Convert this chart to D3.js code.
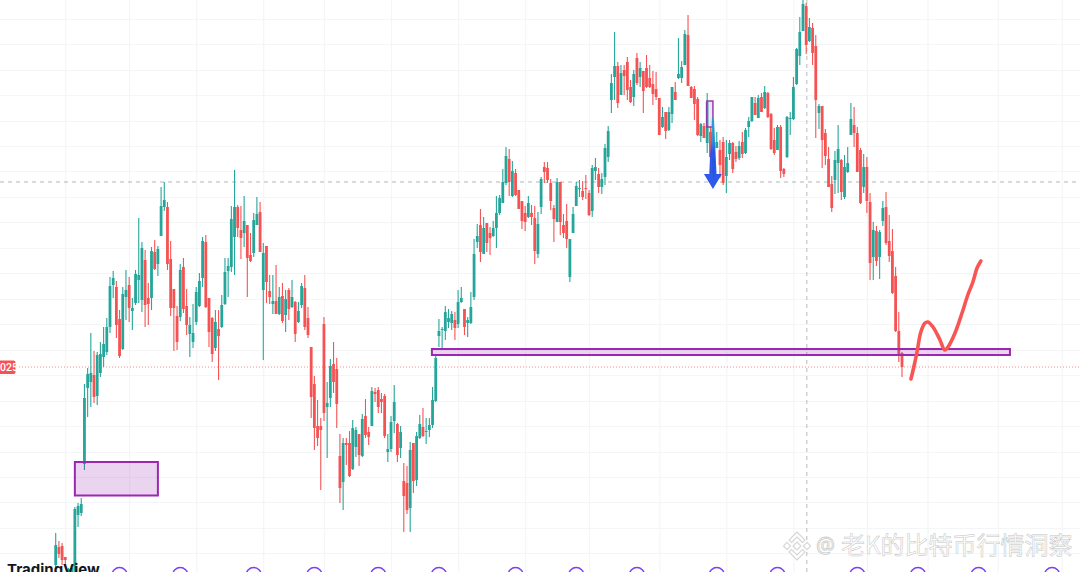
<!DOCTYPE html>
<html>
<head>
<meta charset="utf-8">
<script src="https://cdn.jsdelivr.net/npm/d3@7"></script>
<style>html,body{margin:0;padding:0;background:#fff;overflow:hidden}svg{display:block}</style>
</head>
<body>
<div id="chart"></div>
<script>
const opens = [7,25,26,15,1,0,-18,57,59,108,184,190,197,176,199,215,220,245,287,285,
253,223,275,287,261,269,292,272,312,274,274,320,308,336,365,365,313,283,256,255,
305,266,238,230,250,266,294,330,274,254,224,243,245,268,301,305,335,365,342,339,
347,317,319,347,360,282,326,281,268,271,258,276,257,282,265,270,250,267,284,254,
225,188,146,146,248,165,174,208,203,116,90,129,129,103,125,138,116,156,140,146,
180,182,173,176,120,123,151,148,124,91,89,64,129,92,134,145,140,142,147,171,
236,242,241,250,249,252,248,270,263,249,249,275,330,347,318,349,339,336,344,359,
369,389,413,376,399,382,371,359,355,359,354,318,365,405,404,389,364,350,390,347,
351,295,339,366,383,381,384,379,361,401,398,385,395,415,472,495,506,477,502,510,
485,475,514,495,501,504,494,488,483,474,445,460,442,458,480,494,494,507,537,485,
483,473,436,446,429,440,400,424,422,430,396,418,429,420,414,430,419,445,451,469,
454,475,464,479,458,432,422,445,403,415,453,453,488,516,541,566,531,544,526,459,
466,439,413,388,392,409,412,375,400,437,447,439,422,385,405,370,315,341,315,351,
365,331,321,296,241,219];
const closes = [27,18,12,12,3,4,63,66,68,174,198,199,175,217,218,228,245,286,294,247,
216,278,282,264,264,298,297,324,267,268,321,303,323,366,372,308,264,264,230,302,
263,247,247,239,280,291,331,265,240,218,250,236,267,300,306,353,365,344,334,351,
314,311,352,358,320,319,290,275,271,258,275,251,273,263,275,238,261,286,245,237,
175,144,134,142,159,169,206,190,168,84,129,127,96,144,142,117,153,137,135,181,
178,165,170,136,123,150,170,117,140,76,62,122,91,136,148,136,141,147,172,214,
241,243,260,254,258,244,270,274,245,252,265,318,336,320,344,329,334,344,359,374,
390,416,390,401,377,363,351,350,369,355,321,348,393,400,392,371,353,390,350,339,
333,333,358,386,384,375,383,357,404,405,385,393,424,441,489,506,469,499,496,482,
470,498,489,504,481,485,485,478,475,437,455,441,460,485,472,498,505,538,486,474,
468,437,448,434,470,415,414,430,407,389,415,429,403,413,426,418,442,451,475,457,
474,460,480,455,423,419,445,401,398,455,454,485,523,540,568,527,545,519,472,466,
432,416,385,364,412,423,380,405,409,453,439,400,369,405,371,309,342,311,340,364,
329,316,279,241,217,205];
const highs = [39,31,29,15,4,6,65,69,74,188,204,239,221,220,230,245,254,295,301,291,
262,285,302,295,274,302,354,330,322,289,325,332,326,385,390,370,331,283,266,308,
314,283,255,268,285,299,335,337,274,255,262,262,277,314,314,366,402,367,366,376,
347,339,359,375,370,329,326,297,297,307,285,289,282,284,292,271,270,289,297,265,
225,196,172,154,255,190,213,230,214,138,134,134,141,152,145,138,158,173,145,185,
184,185,179,178,138,156,187,149,146,109,106,130,129,140,157,164,154,154,185,217,
253,245,266,263,261,260,282,285,263,255,280,333,348,363,355,349,345,351,376,377,
403,425,423,411,403,382,371,366,376,367,366,360,395,410,410,393,367,394,390,358,
368,333,365,390,392,391,397,382,407,414,404,399,428,446,498,540,510,507,507,515,
492,502,519,510,501,517,507,501,500,474,465,460,465,485,490,534,511,542,557,486,
486,475,449,449,479,445,444,440,432,435,432,432,430,426,431,440,444,455,475,475,
477,479,486,480,459,444,447,447,404,456,460,495,524,555,572,569,554,549,537,468,
466,443,425,396,421,447,413,417,425,469,465,445,424,418,415,379,350,346,342,371,
380,357,343,305,260,220];
const lows = [0,14,7,6,-1,-3,-18,45,56,102,155,165,169,167,195,205,217,239,274,234,
214,222,252,250,242,267,269,260,245,247,262,302,296,336,361,302,256,221,222,251,
259,237,215,224,247,265,285,264,225,210,221,192,244,267,275,300,297,335,313,325,
275,310,315,347,320,212,269,268,258,258,257,249,240,252,264,230,249,264,242,234,
154,122,126,82,151,114,165,179,144,69,62,107,95,102,115,106,115,134,127,146,
170,159,159,134,110,120,139,110,114,40,58,40,79,86,133,135,128,135,144,170,
225,224,232,244,242,232,244,269,237,235,248,272,324,310,318,320,317,335,324,357,
369,387,376,375,376,363,343,341,354,347,308,314,358,389,389,362,330,350,337,334,
324,290,339,366,375,372,373,356,355,392,379,378,387,410,459,472,464,477,477,472,
469,466,487,485,459,484,484,467,472,437,444,433,441,449,472,493,489,507,486,474,
452,436,430,434,419,399,394,424,394,387,379,412,399,410,412,414,418,435,450,457,
454,460,463,454,422,417,422,394,395,414,437,452,487,507,541,518,530,507,434,443,
404,407,385,360,378,379,372,373,399,437,425,400,368,379,359,292,292,306,293,346,
327,310,278,240,210,195];
const downDay = (o, c) => c < o;

const levelTicks = [19,44,70,95,120,146,171,197,222,248,273,299,324,350,375,401,426,451,477,502,528,553];
const barTicks = [3,23,44,65,84,105,126,147,167,189,210,231,254,273,295,315];
const markerBars = [20,39,62,81,101,120,144,163,182,207,226,251,270,289,312];

const sessionLevel = 390;
const lastLevel = 205;
const crosshairBar = 235.2;
const priceTag = "025";

const zoneBig = [6, 32, 110, 76.5];
const zoneWide = [117.8, 298.8, 223, 217];
const zoneSmall = [203.9, 205.8, 471, 445];
const arrowBar = 205.8;
const arrowLevels = [454, 398, 383];

const sketchBars = [267.8,268.7,269.7,270.9,272.2,273.1,274.7,276.9,278.4,279.4,281.6,283.8,285.6,287.2,288.5,289.7];
const sketchLevels = [193,205,220,240,249,250,245,232,222,225,239,259,277,290,304,311];

const brand = "TradingView";
const wmAt = "@";
const wmText = "老K的比特币行情洞察";

const W = 1080, H = 572;
const up = "#26a69a", down = "#f55353", purple = "#9c27b0";

const x = d3.scaleLinear().domain([0, opens.length - 1]).range([55.7, 902]);
const y = d3.scaleLinear().domain([0, 572]).range([572, 0]);

const svg = d3.select("#chart").append("svg").attr("width", W).attr("height", H);
const defs = svg.append("defs");
defs.append("filter").attr("id", "soft").attr("x", "-5%").attr("y", "-5%").attr("width", "110%").attr("height", "110%")
  .append("feGaussianBlur").attr("stdDeviation", 0.35);
const grad = defs.append("linearGradient").attr("id", "arrowFill").attr("x1", 0).attr("x2", 0).attr("y1", 0).attr("y2", 1);
grad.append("stop").attr("offset", "0%").attr("stop-color", "#2aa0c8");
grad.append("stop").attr("offset", "32%").attr("stop-color", "#2390d8");
grad.append("stop").attr("offset", "48%").attr("stop-color", "#2350e8");
grad.append("stop").attr("offset", "100%").attr("stop-color", "#2350e8");

// grid
const gridY = svg.append("g").call(d3.axisLeft(y).tickValues(levelTicks).tickSize(-W).tickFormat(""));
const gridX = svg.append("g").attr("transform", `translate(0,${H})`)
  .call(d3.axisBottom(x).tickValues(barTicks).tickSize(-H).tickFormat(""));
[gridY, gridX].forEach(g => {
  g.select(".domain").remove();
  g.selectAll("line").attr("stroke", "#f4f5f7").attr("stroke-width", 1.2);
});

// reference lines
svg.append("line").attr("x1", 0).attr("x2", W).attr("y1", y(sessionLevel)).attr("y2", y(sessionLevel))
  .attr("stroke", "#a9acb4").attr("stroke-width", 0.9).attr("stroke-dasharray", "4 4");
svg.append("line").attr("x1", x(crosshairBar)).attr("x2", x(crosshairBar)).attr("y1", 0).attr("y2", H)
  .attr("stroke", "#b8bbc2").attr("stroke-width", 1).attr("stroke-dasharray", "4 4");
svg.append("line").attr("x1", 16).attr("x2", W).attr("y1", y(lastLevel)).attr("y2", y(lastLevel))
  .attr("stroke", "#f58f8f").attr("stroke-width", 1).attr("stroke-dasharray", "1 2");

// candles
const idx = d3.range(opens.length);
const candles = svg.append("g").attr("filter", "url(#soft)");
const col = i => downDay(opens[i], closes[i]) ? down : up;
candles.selectAll("line.w").data(idx).join("line").attr("class", "w")
  .attr("x1", i => x(i)).attr("x2", i => x(i))
  .attr("y1", i => y(highs[i])).attr("y2", i => y(lows[i]))
  .attr("stroke", col).attr("stroke-width", 1.1);
candles.selectAll("rect.b").data(idx).join("rect").attr("class", "b")
  .attr("x", i => x(i) - 1.4).attr("width", 2.8)
  .attr("y", i => y(Math.max(opens[i], closes[i])))
  .attr("height", i => Math.max(1, Math.abs(y(opens[i]) - y(closes[i]))))
  .attr("fill", col);

// zones
const zone = (z, sw) => svg.append("rect")
  .attr("x", x(z[0])).attr("width", x(z[1]) - x(z[0]))
  .attr("y", y(z[2])).attr("height", y(z[3]) - y(z[2]))
  .attr("fill", "rgba(156,39,176,0.2)").attr("stroke", purple).attr("stroke-width", sw);
zone(zoneBig, 2);
zone(zoneWide, 2);
zone(zoneSmall, 1.4).attr("fill", "rgba(200,190,225,0.35)");

// arrow
const ax = x(arrowBar);
svg.append("path")
  .attr("d", d3.line()([[ax - 1, y(arrowLevels[0])], [ax + 1, y(arrowLevels[0])], [ax + 3.6, y(arrowLevels[1])], [ax + 9, y(arrowLevels[1])], [ax, y(arrowLevels[2])], [ax - 9, y(arrowLevels[1])], [ax - 3.6, y(arrowLevels[1])]]) + "Z")
  .attr("fill", "url(#arrowFill)").attr("fill-opacity", 0.95);

// hand drawn stroke
svg.append("path").datum(sketchBars.map((b, i) => [x(b), y(sketchLevels[i])]))
  .attr("d", d3.line().curve(d3.curveCatmullRom))
  .attr("fill", "none").attr("stroke", "#f85555").attr("stroke-width", 3.6)
  .attr("stroke-linecap", "round").attr("stroke-linejoin", "round");

// markers along the bottom
svg.append("g").selectAll("circle").data(markerBars).join("circle")
  .attr("cx", b => x(b)).attr("cy", 575).attr("r", 7.5)
  .attr("fill", "#fff").attr("stroke", "#7c3ff2").attr("stroke-width", 1.5);

// price tag
svg.append("rect").attr("x", -4).attr("y", y(lastLevel) - 6.5).attr("width", 19.5).attr("height", 13.5).attr("rx", 2).attr("fill", "#f55353");
svg.append("text").attr("x", 0).attr("y", y(lastLevel) + 3.9).attr("font-family", "Roboto, sans-serif").attr("font-weight", 500).attr("font-size", 10.5).attr("fill", "#fff").text(priceTag);

// brand
svg.append("text").attr("x", 7).attr("y", 574.5).attr("font-family", "Inter, sans-serif").attr("font-weight", 700).attr("font-size", 15).attr("fill", "#131722").text(brand);

// watermark
const logo = svg.append("g").attr("transform", "translate(797,546)").attr("fill", "#fff").attr("stroke", "#d6d6d6").attr("stroke-width", 1.1);
const dia = (cx, cy, r) => `M${cx},${cy - r}L${cx + r},${cy}L${cx},${cy + r}L${cx - r},${cy}Z`;
logo.append("path").attr("d", dia(0, 0, 4));
logo.append("path").attr("d", dia(-10, 0, 3.6));
logo.append("path").attr("d", dia(10, 0, 3.6));
logo.append("path").attr("d", "M0,-14L8,-6L5.5,-3.5L0,-9L-5.5,-3.5L-8,-6Z");
logo.append("path").attr("d", "M0,14L8,6L5.5,3.5L0,9L-5.5,3.5L-8,6Z");
svg.append("text").attr("x", 816).attr("y", 553).attr("font-family", "'Noto Sans', sans-serif").attr("font-size", 21)
  .attr("fill", "#fff").attr("stroke", "#cbcbcb").attr("stroke-width", 0.8).text(wmAt);
svg.append("text").attr("x", 841).attr("y", 554).attr("font-family", "'Noto Sans CJK SC', sans-serif").attr("font-size", 24)
  .attr("fill", "#fff").attr("stroke", "#c4c4c4").attr("stroke-width", 0.5).text(wmText);
</script>
</body>
</html>
